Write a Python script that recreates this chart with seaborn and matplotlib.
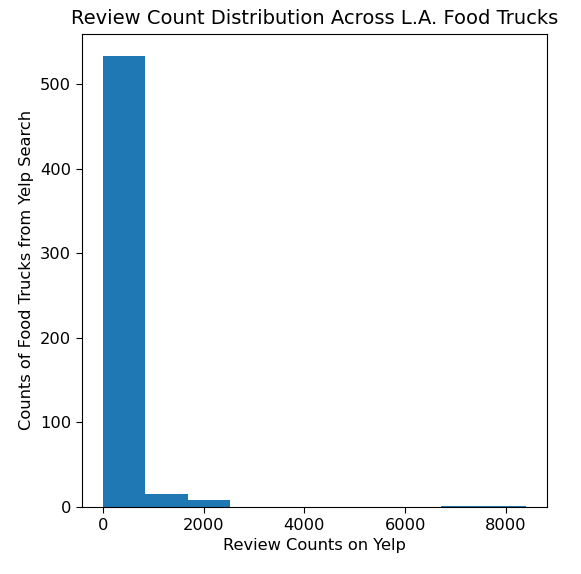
import matplotlib
matplotlib.use("Agg")
import matplotlib.pyplot as plt
import seaborn as sns
import pandas as pd

# Histogram bin edges (review counts) and counts of food trucks per bin
bin_edges = [0, 840, 1680, 2520, 3360, 4200, 5040, 5880, 6720, 7560, 8400]
bin_counts = [533, 15, 8, 0, 0, 0, 0, 0, 1, 1]

title = "Review Count Distribution Across L.A. Food Trucks"
xlabel = "Review Counts on Yelp"
ylabel = "Counts of Food Trucks from Yelp Search"

centers = [(a + b) / 2 for a, b in zip(bin_edges[:-1], bin_edges[1:])]
df = pd.DataFrame({"reviews": centers, "count": bin_counts})

fs = 11.7
fig = plt.figure(figsize=(5.81, 5.74), dpi=100)
ax = fig.add_axes([82 / 581, 1 - 506.7 / 574, (547 - 82) / 581, (506.7 - 33.5) / 574])
sns.histplot(data=df, x="reviews", weights="count", bins=bin_edges, ax=ax,
             color="#1f77b4", alpha=1, edgecolor="none", linewidth=0)
ax.set_title(title, fontsize=14, pad=7)
ax.set_xlabel(xlabel, fontsize=fs, labelpad=4)
ax.set_ylabel(ylabel, fontsize=fs, labelpad=4)
ax.set_ylim(0, 560)
ax.set_xlim(-420, 8820)
ax.set_xticks([0, 2000, 4000, 6000, 8000])
ax.set_yticks([0, 100, 200, 300, 400, 500])
ax.tick_params(labelsize=fs, length=4.5)
fig.savefig("out.png", dpi=100)
